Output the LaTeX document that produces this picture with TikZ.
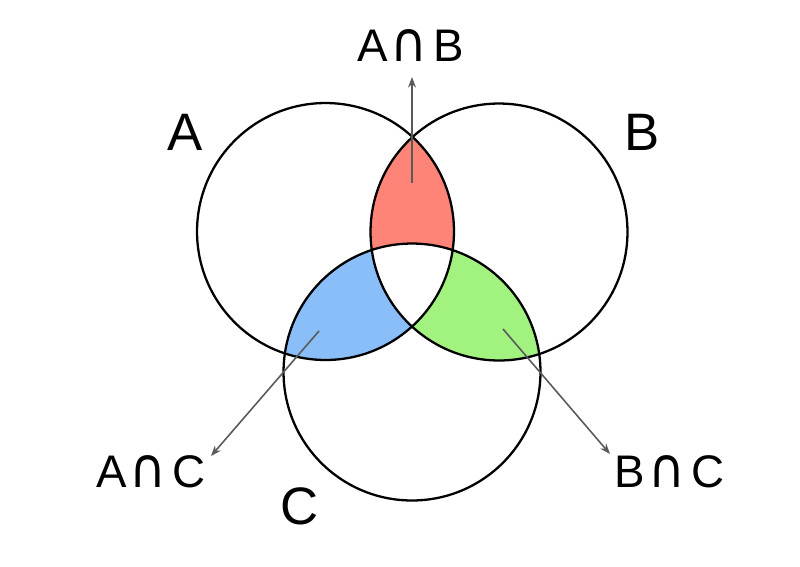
\documentclass[tikz,border=0pt]{standalone}
\usepackage{fontspec}
\setmainfont{Liberation Sans}
\newfontfamily\symfont{DejaVu Sans}
\usetikzlibrary{arrows.meta}
\definecolor{redfill}{RGB}{255,132,120}
\definecolor{bluefill}{RGB}{138,190,248}
\definecolor{greenfill}{RGB}{162,242,128}
\definecolor{arrgray}{RGB}{90,90,90}
\newcommand\bigcapsym{\hspace{0.06cm}\resizebox{0.74cm}{0.64cm}{\symfont ∩}\hspace{0.12cm}}
\begin{document}
\begin{tikzpicture}[x=0.02cm,y=-0.02cm,
  ring/.style={draw=black,line width=1.3pt},
  arr/.style={draw=arrgray,line width=0.9pt,-{Stealth[length=6pt,width=4.5pt]}},
  setname/.style={font=\fontsize{30}{30}\selectfont,inner sep=0pt},
  intername/.style={font=\fontsize{26}{26}\selectfont,inner sep=0pt}]
\useasboundingbox (0,0) rectangle (800,566);
\def\R{2.57cm}
\coordinate (ca) at (325.5,231.5);
\coordinate (cb) at (499,232);
\coordinate (cc) at (412,372);
% fills
\begin{scope}
  \clip (ca) circle[radius=\R];
  \fill[redfill] (cb) circle[radius=\R];
  \fill[bluefill] (cc) circle[radius=\R];
\end{scope}
\begin{scope}
  \clip (cb) circle[radius=\R];
  \fill[greenfill] (cc) circle[radius=\R];
  \begin{scope}
    \clip (cc) circle[radius=\R];
    \fill[white] (ca) circle[radius=\R];
  \end{scope}
\end{scope}
% circles
\draw[ring] (ca) circle[radius=\R];
\draw[ring] (cb) circle[radius=\R];
\draw[ring] (cc) circle[radius=\R];
% labels
\node[setname] (lA) at (185,132.5) {A};
\node[setname] (lB) at (642,132.5) {B};
\node[setname] (lC) at (300,506) {C};
\node[intername] (lAB) at (410.5,45) {A\bigcapsym B};
\node[intername] (lAC) at (151,472) {A\bigcapsym C};
\node[intername] (lBC) at (669.5,472) {B\bigcapsym C};
% arrows
\coordinate (sAB) at (412,183);
\coordinate (tAB) at (412,77);
\coordinate (sAC) at (319,331);
\coordinate (tAC) at (211,456);
\coordinate (sBC) at (503,329);
\coordinate (tBC) at (610,454);
\draw[arr] (sAB) -- (tAB);
\draw[arr] (sAC) -- (tAC);
\draw[arr] (sBC) -- (tBC);
\end{tikzpicture}
\end{document}
